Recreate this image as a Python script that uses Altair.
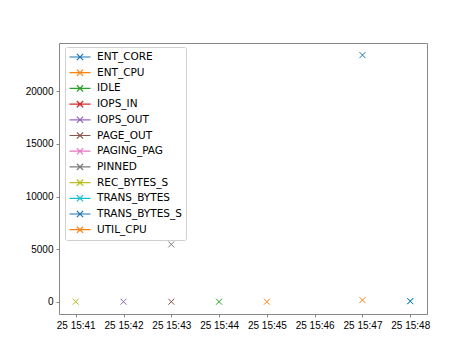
import altair as alt
import pandas as pd

series_names = ["ENT_CORE", "ENT_CPU", "IDLE", "IOPS_IN", "IOPS_OUT", "PAGE_OUT",
                "PAGING_PAG", "PINNED", "REC_BYTES_S", "TRANS_BYTES", "TRANS_BYTES_S", "UTIL_CPU"]
series_colors = ["#1f77b4", "#ff7f0e", "#2ca02c", "#d62728", "#9467bd", "#8c564b",
                 "#e377c2", "#7f7f7f", "#bcbd22", "#17becf", "#1f77b4", "#ff7f0e"]

point_series = ["REC_BYTES_S", "IOPS_OUT", "PAGE_OUT", "PINNED", "IDLE", "ENT_CPU",
                "UTIL_CPU", "ENT_CORE", "TRANS_BYTES", "TRANS_BYTES_S"]
point_minutes = [41, 42, 43, 43, 44, 45, 47, 47, 48, 48]
point_values = [0, 0, 0, 5450, 0, 0, 150, 23450, 40, 60]

tick_minutes = [41, 42, 43, 44, 45, 46, 47, 48]

base = pd.Timestamp("2023-01-25T15:00:00", tz="UTC")
def ms(minute, sec=0):
    return int((base + pd.Timedelta(minutes=minute, seconds=sec)).timestamp() * 1000)

df = pd.DataFrame({
    "series": point_series,
    "t": [ms(m) for m in point_minutes],
    "value": point_values,
})

x_domain = [ms(40, 39), ms(48, 21)]
tick_vals = [ms(m) for m in tick_minutes]
y_domain = [-1170, 24600]

legend_shape = "M-2,0L2,0M-0.6,-0.6L0.6,0.6M-0.6,0.6L0.6,-0.6"
x_shape = "M-1,-1L1,1M-1,1L1,-1"

xs = alt.Scale(type="utc", domain=x_domain)
ys = alt.Scale(domain=y_domain, nice=False, zero=False)

frame = alt.Chart(df).mark_point(opacity=0).encode(
    x=alt.X("t:T", scale=xs, axis=alt.Axis(orient="top", labels=False, ticks=False,
                                          grid=False, title=None)),
    y=alt.Y("value:Q", scale=ys, axis=alt.Axis(orient="right", labels=False, ticks=False,
                                              grid=False, title=None)),
)

points = alt.Chart(df).mark_point(
    shape=x_shape, filled=False, size=36, strokeWidth=1, opacity=1
).encode(
    x=alt.X("t:T", scale=xs,
            axis=alt.Axis(values=tick_vals, labelExpr="utcFormat(datum.value, '%d %H:%M')",
                          title=None, grid=False, labelOverlap=False, labelFlush=False,
                          tickSize=3, labelPadding=3)),
    y=alt.Y("value:Q", scale=ys,
            axis=alt.Axis(values=[0, 5000, 10000, 15000, 20000], format="d", title=None,
                          grid=False, tickSize=3, labelPadding=3)),
    color=alt.Color("series:N", scale=alt.Scale(domain=series_names, range=series_colors),
                    legend=alt.Legend(title=None, orient="none", legendX=6, legendY=4,
                                      symbolType=legend_shape, symbolSize=110,
                                      symbolStrokeWidth=1.2, symbolFillColor="transparent",
                                      labelFontSize=10.5, labelFont="DejaVu Sans",
                                      labelColor="#000", labelOffset=11, rowPadding=3.7,
                                      padding=4, strokeColor="#d0d0d0", fillColor="white",
                                      cornerRadius=2, symbolOffset=5, labelLimit=200)),
)

chart = alt.layer(frame, points).resolve_axis(
    x="independent", y="independent"
).properties(
    width=368, height=271,
    autosize=alt.AutoSizeParams(type="none"),
    padding={"left": 59, "top": 43, "right": 47, "bottom": 40},
).configure_view(
    stroke=None
).configure_axis(
    labelFont="DejaVu Sans", labelFontSize=10.3, labelColor="#000",
    tickColor="#000", tickWidth=0.8, domainColor="#222", domainWidth=1.2
).configure(background="white")

chart.save("out.html", embed_options={"renderer": "svg", "actions": False})
